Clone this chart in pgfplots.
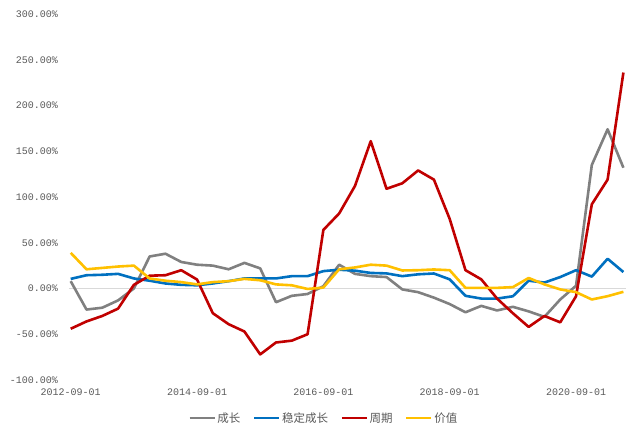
\documentclass[border=0pt]{standalone}
\usepackage{pgfplots}
\usepackage{pgfplotstable}
\pgfplotsset{compat=1.18}
\usepackage{fontspec}
\setmainfont{Noto Sans CJK SC}
\newfontfamily\monofont{Liberation Mono}
\definecolor{cgray}{RGB}{128,128,128}
\definecolor{cblue}{RGB}{0,112,192}
\definecolor{cred}{RGB}{192,0,0}
\definecolor{cyellow}{RGB}{255,192,0}
\definecolor{ctext}{RGB}{89,89,89}
\definecolor{czero}{RGB}{217,217,217}

\pgfplotstableread{
i g b r y
0 8 10.5 -44 39
1 -23 14.5 -36 21
2 -21 15 -30 22.5
3 -13 16 -22 24
4 0 11 4 25
5 35 8.5 14 11
6 38 5.5 14.5 8.5
7 29 4 20 7
8 26 3.5 9.8 4.5
9 25 5.5 -27 7
10 21 8 -39 8
11 28 11 -47 10.5
12 22 11 -72 9
13 -15 11 -59 4.5
14 -8 13.5 -57 3.5
15 -6 13.5 -50 -0.5
16 2.5 19 64 1
17 26 20.5 82 21
18 16 19.5 112 23
19 13.5 17 161 26
20 12.5 16.5 109 25
21 -1 13.5 115 19.7
22 -4 15.5 129 20
23 -10 16.4 119 20.8
24 -17 10 76 20
25 -26 -8 20 0.7
26 -19 -11 10 0.7
27 -24 -11 -11 0.7
28 -20 -8.5 -27 1.5
29 -25 8.5 -42 11.5
30 -31 6.5 -30 4.5
31 -12 12.5 -37 -1
32 3 20 -8.5 -4
33 135 13 92 -12
34 174 32.5 119 -8.4
35 132 18 236 -3.6
}\data

\begin{document}
\begin{tikzpicture}
\useasboundingbox (-69bp,-56bp) rectangle (571bp,380bp);
\begin{axis}[
  at={(0,0)}, anchor=south west,
  scale only axis, width=557bp, height=366bp,
  xmin=-0.108, xmax=35.165, ymin=-100, ymax=300,
  axis line style={draw=none},
  major tick length=0pt,
  xtick={0,8,16,24,32},
  xticklabels={2012-09-01,2014-09-01,2016-09-01,2018-09-01,2020-09-01},
  ytick={-100,-50,0,50,100,150,200,250,300},
  yticklabels={-100.00\%,-50.00\%,0.00\%,50.00\%,100.00\%,150.00\%,200.00\%,250.00\%,300.00\%},
  ticklabel style={font=\monofont\fontsize{10bp}{12bp}\selectfont, text=ctext, inner sep=0pt},
  xticklabel style={anchor=north},
  xticklabel shift=9bp,
  yticklabel style={anchor=east},
  yticklabel shift=11bp,
  extra y ticks={0},
  extra y tick labels={},
  extra y tick style={grid=major, major grid style={draw=czero, line width=1.2bp}},
  legend style={at={(0.457,-0.104)}, anchor=center, draw=none, fill=none,
    legend columns=4, font=\fontsize{11.5bp}{13bp}\selectfont, text=ctext,
    nodes={inner sep=1.5bp},
    /tikz/every even column/.append style={column sep=11bp}},
  legend image code/.code={\draw[#1, line width=2.6bp] (0bp,0bp) -- (25bp,0bp);},
  every axis plot/.append style={line width=2.6bp, line join=round},
]
\addplot[cgray, no marks] table[x=i, y=g] {\data};
\addlegendentry{成长}
\addplot[cblue, no marks] table[x=i, y=b] {\data};
\addlegendentry{稳定成长}
\addplot[cred, no marks] table[x=i, y=r] {\data};
\addlegendentry{周期}
\addplot[cyellow, no marks] table[x=i, y=y] {\data};
\addlegendentry{价值}
\end{axis}
\end{tikzpicture}
\end{document}
